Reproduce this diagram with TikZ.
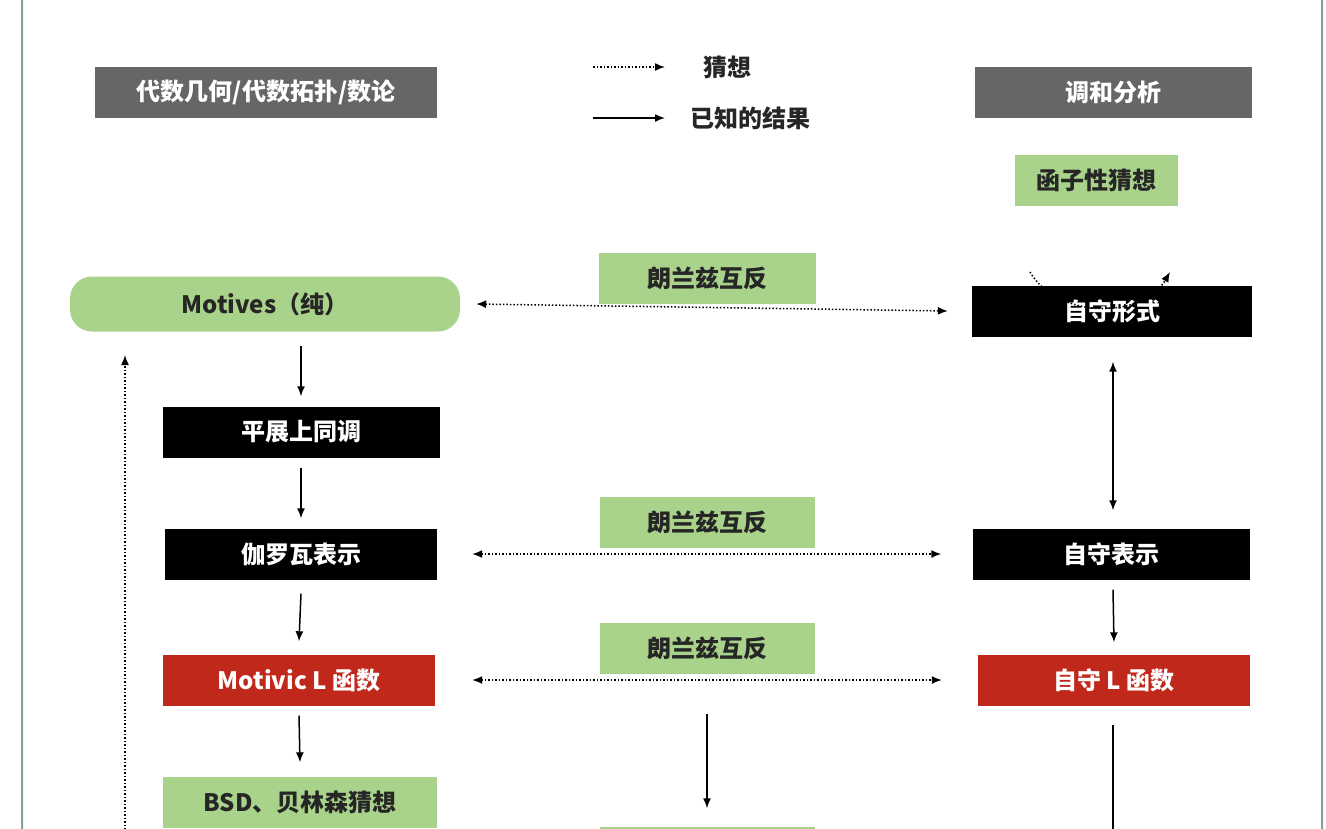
\documentclass[tikz,border=0pt]{standalone}
\usepackage{fontspec}
\setmainfont{Noto Sans CJK SC}
\usetikzlibrary{arrows.meta}
\definecolor{lgreen}{HTML}{A9D38A}
\definecolor{dred}{HTML}{C0281C}
\definecolor{dgray}{HTML}{666666}
\definecolor{frame}{HTML}{7FA3A3}

\tikzset{
  box/.style={rectangle, minimum height=51pt, inner sep=0pt, font=\fontsize{24}{28}\selectfont\bfseries},
  greybox/.style={box, fill=dgray, text=white},
  blackbox/.style={box, fill=black, text=white},
  redbox/.style={box, fill=dred, text=white},
  greenbox/.style={box, fill=lgreen, text=black!85},
  known/.style={-{Latex[length=10pt,width=8pt]}, line width=1.5pt},
  guess/.style={-{Latex[length=10pt,width=8pt]}, line width=1.5pt, dotted},
  both/.style={{Latex[length=10pt,width=8pt]}-{Latex[length=10pt,width=8pt]}},
  lbl/.style={font=\fontsize{24}{28}\selectfont\bfseries, text=black!85}
}

\begin{document}
\begin{tikzpicture}[x=1pt,y=-1pt]
\useasboundingbox (0,0) rectangle (1326,828);
\draw[frame, line width=2pt, rounded corners=14pt] (22,-20) rectangle (1322,900);

% column headers
\node[greybox, minimum width=342pt] (alg) at (266,92) {代数几何/代数拓扑/数论};
\node[greybox, minimum width=277pt] (har) at (1113,92) {调和分析};

% legend
\coordinate (g1) at (593,67);
\coordinate (g2) at (665,67);
\coordinate (k1) at (593,118);
\coordinate (k2) at (665,118);
\draw[guess] (g1) -- (g2);
\draw[known] (k1) -- (k2);
\node[lbl] (gtext) at (727,67) {猜想};
\node[lbl] (ktext) at (750,118) {已知的结果};

% right column
\node[greenbox, minimum width=163pt] (func) at (1096,180) {函子性猜想};
\node[blackbox, minimum width=280pt] (af) at (1112,311) {自守形式};
\node[blackbox, minimum width=277pt] (ar) at (1111,554) {自守表示};
\node[redbox, minimum width=272pt] (al) at (1114,680) {自守 L 函数};

% left column
\node[box, fill=lgreen, text=black!85, minimum width=390pt, rounded corners=22pt, minimum height=55pt] (mot) at (265,304) {Motives（纯）};
\node[blackbox, minimum width=277pt] (et) at (301,432) {平展上同调};
\node[blackbox, minimum width=272pt] (gal) at (301,554) {伽罗瓦表示};
\node[redbox, minimum width=272pt] (ml) at (299,680) {Motivic L 函数};
\node[greenbox, minimum width=274pt] (bsd) at (300,802) {BSD、贝林森猜想};

% middle labels
\node[greenbox, minimum width=217pt] (lr1) at (707,278) {朗兰兹互反};
\node[greenbox, minimum width=215pt] (lr2) at (707,522) {朗兰兹互反};
\node[greenbox, minimum width=215pt] (lr3) at (707,648) {朗兰兹互反};
\node[fill=lgreen, minimum width=215pt, minimum height=51pt, inner sep=0pt] (low) at (707,852) {};

% helper points
\coordinate (c1) at (1030,272);
\coordinate (c2) at (1170,272);
\coordinate (rtop) at (1113,725);
\coordinate (rend) at (1113,840);
\coordinate (lstart) at (125,840);
\coordinate (lend) at (125,355);

% arrows
\draw[guess, both] ([xshift=16pt]mot.east) -- ([xshift=-24pt]af.west);
\draw[guess, both] ([xshift=35pt]gal.east) -- ([xshift=-31pt]ar.west);
\draw[guess, both] ([xshift=37pt]ml.east) -- ([xshift=-36pt]al.west);
\draw[guess] (c1) to[out=-60,in=-120] (c2);

\draw[known] ([yshift=-14pt]mot.south -| et.north) -- ([yshift=10pt]et.north);
\draw[known] ([yshift=-10pt]et.south) -- ([yshift=10pt]gal.north);
\draw[known] ([yshift=-14pt]gal.south) -- ([yshift=13pt]ml.north);
\draw[known] ([yshift=-10pt]ml.south) -- ([yshift=14pt]bsd.north);
\draw[known, both] ([xshift=1pt,yshift=-25pt]af.south) -- ([xshift=2pt,yshift=18pt]ar.north);
\draw[known] ([xshift=2pt,yshift=-10pt]ar.south) -- ([yshift=12pt]al.north);
\draw[known] ([yshift=-40pt]lr3.south) -- ([yshift=18pt]low.north);
\draw[line width=1.5pt] (rtop) -- (rend);
\draw[guess] (lstart) -- (lend);
\end{tikzpicture}
\end{document}
